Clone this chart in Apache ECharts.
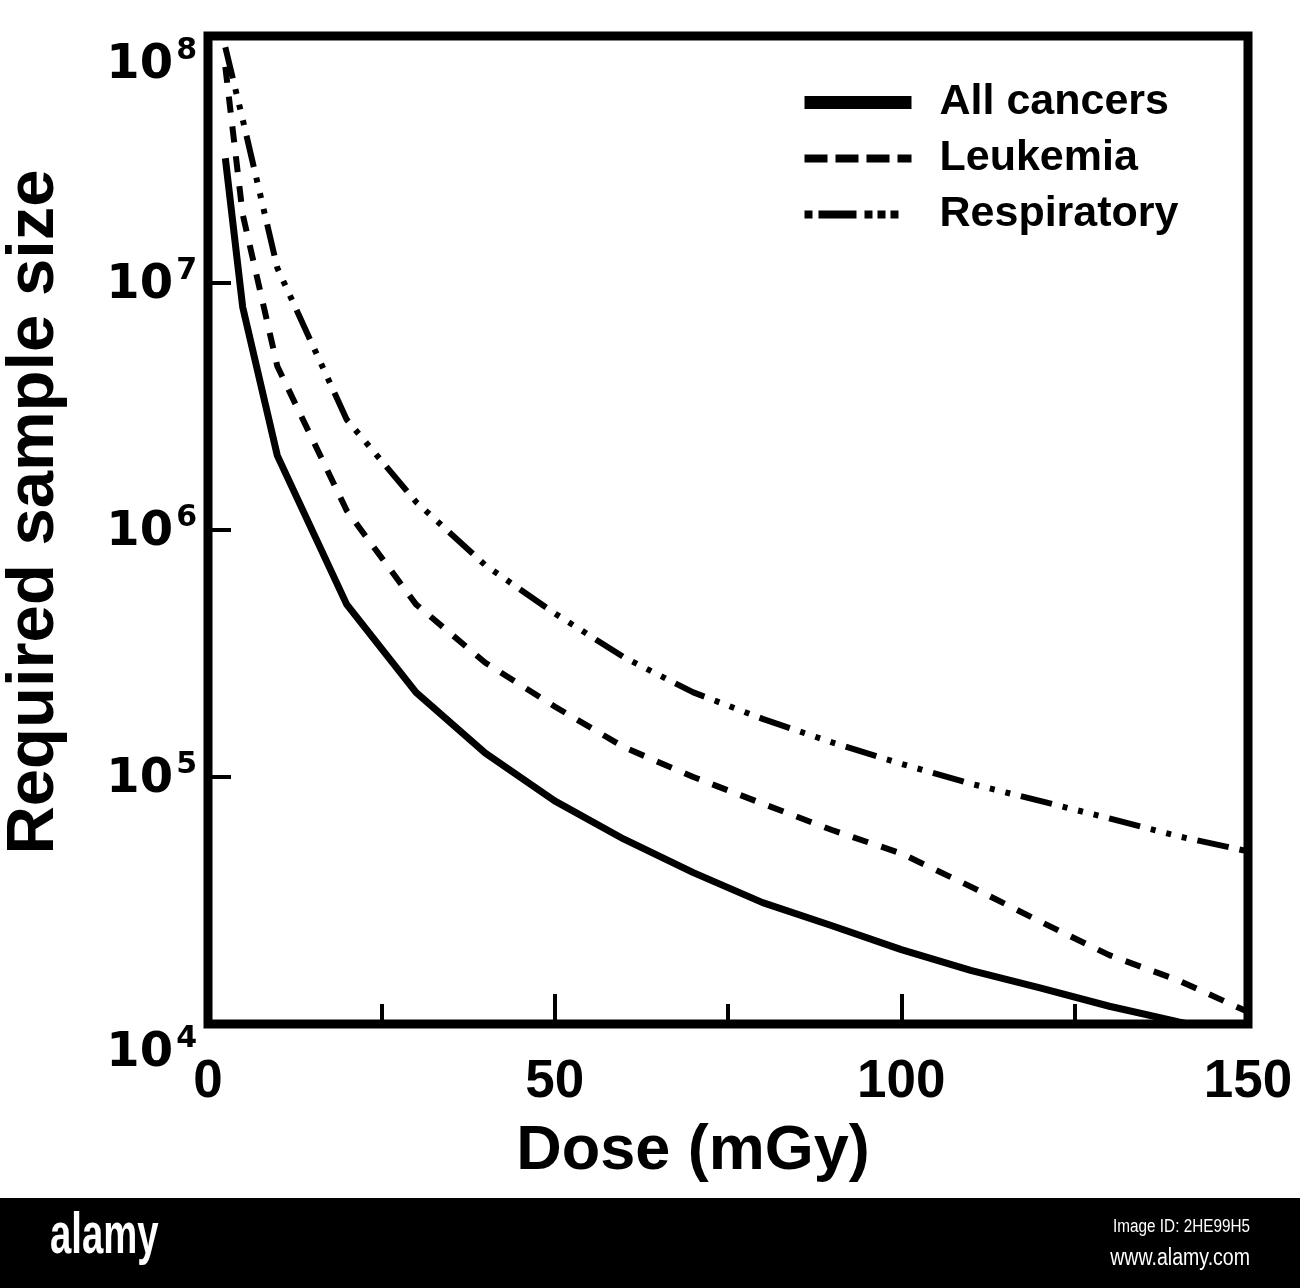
<!DOCTYPE html>
<html>
<head>
<meta charset="utf-8">
<script src="https://cdn.jsdelivr.net/npm/echarts@6/dist/echarts.min.js"></script>
<style>
    html, body { margin: 0; padding: 0; background: #fff; }
    #chart { width: 1300px; height: 1288px; }
</style>
</head>
<body>
<div id="chart"></div>
<script>
    // dose points (mGy)
    const doses = [2.5, 5, 10, 20, 30, 40, 50, 60, 70, 80, 90, 100, 110, 120, 130, 140, 150];
    // required sample size
    const allCancers = [3.2e7, 8e6, 2e6, 5e5, 2.2e5, 1.25e5, 8e4, 5.6e4, 4.1e4, 3.1e4, 2.5e4, 2.0e4, 1.65e4, 1.4e4, 1.18e4, 1.02e4, 8.9e3];
    const leukemia = [7.5e7, 1.9e7, 4.6e6, 1.2e6, 5.0e5, 2.9e5, 1.93e5, 1.32e5, 1.0e5, 7.8e4, 6.1e4, 4.9e4, 3.6e4, 2.6e4, 1.9e4, 1.5e4, 1.12e4];
    const respiratory = [9e7, 4.6e7, 1.15e7, 2.8e6, 1.3e6, 7.2e5, 4.6e5, 3.05e5, 2.2e5, 1.72e5, 1.38e5, 1.13e5, 9.4e4, 8.0e4, 6.8e4, 5.75e4, 5.0e4];
    const seriesNames = ['All cancers', 'Leukemia', 'Respiratory'];

    function pairs(vals) {
        return doses.map((d, i) => [d, vals[i]]);
    }

    const myChart = echarts.init(document.getElementById('chart'));

    const labelFont = {
        fontFamily: 'DejaVu Sans',
        fontWeight: 'bold',
        color: '#000'
    };

    var option = {
        animation: false,
        backgroundColor: '#fff',
        grid: {
            left: 208,
            top: 36,
            width: 1040,
            height: 988,
            outerBoundsMode: 'none',
            containLabel: false,
            show: true,
            borderColor: '#000',
            borderWidth: 9,
            z: 5
        },
        legend: {
            orient: 'vertical',
            left: 793,
            top: 76,
            itemWidth: 107,
            itemHeight: 14,
            itemGap: 13,
            itemStyle: { opacity: 0 },
            textStyle: {
                fontFamily: 'Liberation Sans',
                fontWeight: 'bold',
                fontSize: 43,
                lineHeight: 42,
                color: '#000',
                padding: [0, 0, 0, 23]
            },
            data: [
                { name: seriesNames[0], lineStyle: { width: 13, type: 'solid' } },
                { name: seriesNames[1], lineStyle: { width: 8, type: [23, 8] } },
                { name: seriesNames[2], lineStyle: { width: 8, type: [8, 6, 38, 8, 8, 5, 8, 5, 8, 20] } }
            ]
        },
        xAxis: {
            type: 'value',
            min: 0,
            max: 150,
            interval: 50,
            name: 'Dose (mGy)',
            nameLocation: 'middle',
            nameGap: 96,
            nameTextStyle: {
                fontFamily: 'Liberation Sans',
                fontWeight: 'bold',
                fontSize: 63,
                color: '#000',
                padding: [0, 70, 0, 0]
            },
            axisLine: { show: false },
            axisTick: { show: true, inside: true, length: 30, lineStyle: { color: '#000', width: 4 } },
            minorTick: { show: true, splitNumber: 2, length: 20, lineStyle: { color: '#000', width: 4 } },
            splitLine: { show: false },
            axisLabel: {
                margin: 32,
                fontFamily: 'Liberation Sans',
                fontWeight: 'bold',
                fontSize: 53,
                color: '#000'
            }
        },
        yAxis: {
            type: 'log',
            logBase: 10,
            min: 1e4,
            max: 1e8,
            name: 'Required sample size',
            nameLocation: 'middle',
            nameGap: 140,
            nameRotate: 90,
            nameTextStyle: {
                fontFamily: 'Liberation Sans',
                fontWeight: 'bold',
                fontSize: 67,
                color: '#000',
                padding: [0, 0, 0, 36]
            },
            axisLine: { show: false },
            axisTick: { show: true, inside: true, length: 23, lineStyle: { color: '#000', width: 4 } },
            splitLine: { show: false },
            axisLabel: {
                margin: 11,
                // the end labels sit a little below their ticks
                verticalAlignMinLabel: 'top',
                verticalAlignMaxLabel: 'top',
                formatter: function (v) {
                    const p = Math.round(Math.log10(v));
                    return '{b|10}{s|' + p + '}';
                },
                rich: {
                    b: Object.assign({ fontSize: 48, lineHeight: 48, verticalAlign: 'bottom' }, labelFont),
                    s: Object.assign({ fontSize: 30, lineHeight: 54, verticalAlign: 'top', padding: [0, 0, 0, 3] }, labelFont)
                }
            }
        },
        series: [
            {
                name: seriesNames[0],
                type: 'line',
                data: pairs(allCancers),
                symbol: 'none',
                clip: true,
                lineStyle: { color: '#000', width: 7, type: 'solid' },
                itemStyle: { color: '#000' }
            },
            {
                name: seriesNames[1],
                type: 'line',
                data: pairs(leukemia),
                symbol: 'none',
                clip: true,
                lineStyle: { color: '#000', width: 6, type: [16, 14] },
                itemStyle: { color: '#000' }
            },
            {
                name: seriesNames[2],
                type: 'line',
                data: pairs(respiratory),
                symbol: 'none',
                clip: true,
                lineStyle: { color: '#000', width: 6, type: [32, 11, 5, 11, 5, 11, 5, 11] },
                itemStyle: { color: '#000' }
            }
        ],
        graphic: [
            {
                type: 'rect',
                left: 0,
                top: 1198,
                shape: { width: 1300, height: 90 },
                style: { fill: '#000' },
                z: 100
            },
            {
                type: 'text',
                x: 50,
                y: 1208,
                scaleX: 0.66,
                style: {
                    text: 'alamy',
                    fill: '#fff',
                    font: 'bold 58px "Liberation Sans"',
                    textVerticalAlign: 'top'
                },
                z: 101
            },
            {
                type: 'text',
                x: 1250,
                y: 1218,
                scaleX: 0.85,
                style: {
                    text: 'Image ID: 2HE99H5',
                    fill: '#fff',
                    font: '18px "Liberation Sans"',
                    textAlign: 'right',
                    textVerticalAlign: 'top'
                },
                z: 101
            },
            {
                type: 'text',
                x: 1250,
                y: 1247,
                scaleX: 0.85,
                style: {
                    text: 'www.alamy.com',
                    fill: '#fff',
                    font: '23px "Liberation Sans"',
                    textAlign: 'right',
                    textVerticalAlign: 'top'
                },
                z: 101
            }
        ]
    };

    myChart.setOption(option);
</script>
</body>
</html>
